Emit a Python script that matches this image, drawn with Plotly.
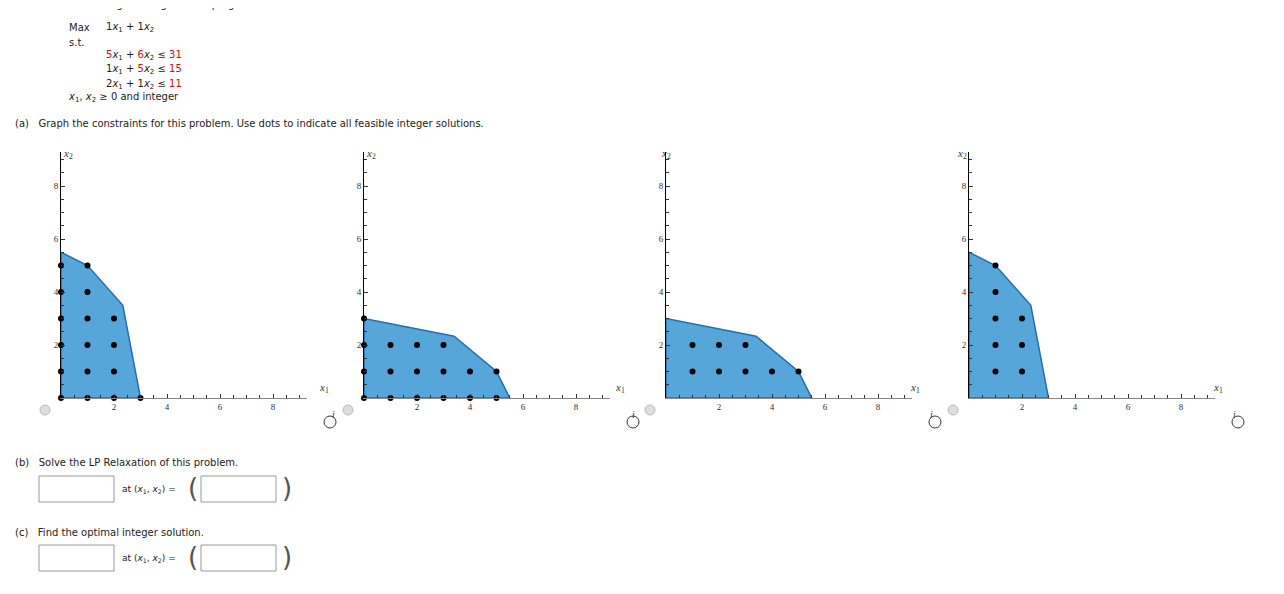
import plotly.graph_objects as go

# feasible region vertices per panel
poly_x = [[0, 0, 1, 2.333, 3, 0],
          [0, 0, 3.4, 5, 5.5, 0],
          [0, 0, 3.4, 5, 5.5, 0],
          [0, 0, 1, 2.333, 3, 0]]
poly_y = [[0, 5.5, 5, 3.5, 0, 0],
          [0, 3, 2.33, 1, 0, 0],
          [0, 3, 2.33, 1, 0, 0],
          [0, 5.5, 5, 3.5, 0, 0]]
# integer dots per panel
dot_x = [[0, 0, 0, 0, 0, 0, 1, 1, 1, 1, 1, 1, 2, 2, 2, 2, 3],
         [0, 0, 0, 0, 1, 1, 1, 2, 2, 2, 3, 3, 3, 4, 4, 5, 5],
         [1, 1, 2, 2, 3, 3, 4, 5],
         [1, 1, 1, 1, 1, 2, 2, 2]]
dot_y = [[0, 1, 2, 3, 4, 5, 0, 1, 2, 3, 4, 5, 0, 1, 2, 3, 0],
         [0, 1, 2, 3, 0, 1, 2, 0, 1, 2, 0, 1, 2, 0, 1, 0, 1],
         [1, 2, 1, 2, 1, 2, 1, 1],
         [1, 2, 3, 4, 5, 1, 2, 3]]
ticks = [2, 4, 6, 8]

W, H = 1270, 580  # page body adds 8px margin
origins = [61, 364, 666, 969]
unit = 26.5
oy = 398

fig = go.Figure()
FONT = "DejaVu Sans"
shapes, ann = [], []

def px(x):
    return (x - 8) / W

def py(y):
    return 1 - (y - 8) / H

for i in range(4):
    n = "" if i == 0 else str(i + 1)
    fig.add_trace(go.Scatter(x=poly_x[i], y=poly_y[i], fill="toself", fillcolor="#56a6da",
                             mode="lines", line=dict(color="#1d6fb8", width=1.5),
                             xaxis="x" + n, yaxis="y" + n, hoverinfo="skip", showlegend=False))
    fig.add_trace(go.Scatter(x=dot_x[i], y=dot_y[i], mode="markers", cliponaxis=False,
                             marker=dict(color="black", size=6),
                             xaxis="x" + n, yaxis="y" + n, showlegend=False))
    ox = origins[i]
    tf = dict(family="Liberation Serif", size=9, color="#333")
    ax = dict(range=[0, 9.3], domain=[px(ox), px(ox + 9.3 * unit)], showgrid=False, zeroline=False,
              showline=True, linecolor="#888", tickvals=ticks, ticks="inside", ticklen=4,
              tickcolor="#333", minor=dict(ticks="inside", dtick=0.5, ticklen=3, tickcolor="#333"),
              tickfont=tf, anchor="y" + n)
    ay = dict(range=[0, 9.3], domain=[py(oy), py(oy - 9.3 * unit)], showgrid=False, zeroline=False,
              showline=True, linecolor="black", tickvals=ticks, ticks="inside", ticklen=4,
              tickcolor="#333", minor=dict(ticks="inside", dtick=0.5, ticklen=3, tickcolor="#333"),
              tickfont=tf, anchor="x" + n)
    fig.layout["xaxis" + n] = ax
    fig.layout["yaxis" + n] = ay
    ann.append(dict(x=px(ox), y=py(145), xref="paper", yref="paper", text="<i>x</i><sub>2</sub>",
                    showarrow=False, font=dict(family="Liberation Serif", size=11, color="#333")))
    ann.append(dict(x=px(ox + 9.3 * unit + 10), y=py(397), xref="paper", yref="paper",
                    text="<i>x</i><sub>1</sub>", showarrow=False,
                    font=dict(family="Liberation Serif", size=11, color="#333")))
    cx = ox - 16
    shapes.append(dict(type="circle", xref="paper", yref="paper", x0=px(cx - 5), x1=px(cx + 5),
                       y0=py(415), y1=py(405), fillcolor="#ddd", line=dict(color="#bbb", width=1)))
    ix = ox + 269
    shapes.append(dict(type="circle", xref="paper", yref="paper", x0=px(ix - 6), x1=px(ix + 6),
                       y0=py(428), y1=py(416), line=dict(color="#333", width=1)))
    ann.append(dict(x=px(ix), y=py(422), xref="paper", yref="paper", text="<i>i</i>", showarrow=False,
                    font=dict(family="Liberation Serif", size=10, color="#333")))

def txt(x, y, s, size=10, color="#222"):
    ann.append(dict(x=px(x), y=py(y), xref="paper", yref="paper", text=s, showarrow=False,
                    xanchor="left", yanchor="middle", font=dict(family=FONT, size=size, color=color)))

R = "#e8000b"
txt(9, 5, "Consider the following all-integer linear program.")
txt(67, 28, "Max")
txt(104, 28, "1<i>x</i><sub>1</sub> + 1<i>x</i><sub>2</sub>")
txt(67, 42, "s.t.")
txt(104, 55, f"<span style='color:{R}'>5</span><i>x</i><sub>1</sub> + <span style='color:{R}'>6</span><i>x</i><sub>2</sub> ≤ <span style='color:{R}'>31</span>")
txt(104, 70, f"1<i>x</i><sub>1</sub> + <span style='color:{R}'>5</span><i>x</i><sub>2</sub> ≤ <span style='color:{R}'>15</span>")
txt(104, 84, f"2<i>x</i><sub>1</sub> + 1<i>x</i><sub>2</sub> ≤ <span style='color:{R}'>11</span>")
txt(66, 98, "<i>x</i><sub>1</sub>, <i>x</i><sub>2</sub> ≥ 0 and integer")
txt(13, 123, "(a)   Graph the constraints for this problem. Use dots to indicate all feasible integer solutions.")
txt(13, 462, "(b)   Solve the LP Relaxation of this problem.")
txt(13, 532, "(c)   Find the optimal integer solution.")
for yc in (489, 558):
    shapes.append(dict(type="rect", xref="paper", yref="paper", x0=px(39), x1=px(114),
                       y0=py(yc + 13), y1=py(yc - 13), line=dict(color="#999", width=1)))
    shapes.append(dict(type="rect", xref="paper", yref="paper", x0=px(201), x1=px(276),
                       y0=py(yc + 13), y1=py(yc - 13), line=dict(color="#999", width=1)))
    txt(120, yc, "at (<i>x</i><sub>1</sub>, <i>x</i><sub>2</sub>) =", size=9)
    txt(186, yc - 1, "(", size=26, color="#555")
    txt(280, yc - 1, ")", size=26, color="#555")

fig.update_layout(width=W, height=H, margin=dict(l=0, r=0, t=0, b=0), plot_bgcolor="white",
                  paper_bgcolor="white", shapes=shapes, annotations=ann)
fig.write_html("out.html")
